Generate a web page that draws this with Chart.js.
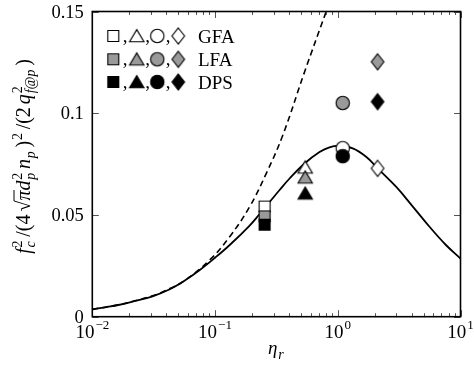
<!DOCTYPE html>
<html>
<head>
<meta charset="utf-8">
<script src="https://cdn.jsdelivr.net/npm/chart.js@4.4.1/dist/chart.umd.min.js"></script>
<style>
  html, body { margin: 0; padding: 0; background: #fff; }
  #wrap { width: 474px; height: 367px; }
</style>
</head>
<body>
<div id="wrap"><canvas id="c"></canvas></div>
<script>
// solid curve
const etaSolid = [0.01, 0.01269, 0.01627, 0.02225, 0.03057, 0.04282, 0.05672, 0.0751, 0.09945, 0.1317,
                  0.1914, 0.2309, 0.2784, 0.3357, 0.4049, 0.5362, 0.71, 0.856, 1.032, 1.324, 1.702,
                  2.114, 2.985, 4.072, 5.567, 7.608, 10];
const solidVals = [0.00364, 0.00462, 0.00575, 0.00772, 0.00988, 0.01347, 0.01779, 0.02295, 0.02885, 0.03524,
                   0.04482, 0.05048, 0.05637, 0.06227, 0.06792, 0.07529, 0.08095, 0.08326, 0.0839, 0.08277,
                   0.07864, 0.07294, 0.06389, 0.05426, 0.04433, 0.03524, 0.0286];
// dashed curve
const etaDash = [0.01, 0.01627, 0.03057, 0.04282, 0.05494, 0.09055, 0.1317, 0.1914, 0.2618, 0.357, 0.5362, 0.8047];
const dashVals = [0.00364, 0.00585, 0.01017, 0.01386, 0.0172, 0.02787, 0.03932, 0.05406, 0.07048, 0.0893, 0.1203, 0.15];

// markers
const etaPts = [0.2535, 0.543, 1.098, 2.11];
const gfaPts = [0.0541, 0.0734, 0.0828, 0.0729];
const lfaPts = [0.0493, 0.0685, 0.105, 0.1253];
const dpsPts = [0.0452, 0.0606, 0.0789, 0.1057];
const shapes = ['rect', 'triangle', 'circle', 'diamond'];

const legendNames = ['GFA', 'LFA', 'DPS'];
const xMajor = [0.01, 0.1, 1, 10];
const xTickExp = ['\u22122', '\u22121', '0', '1'];
const yTicks = [0, 0.05, 0.1, 0.15];
const yTickLabels = ['0', '0.05', '0.1', '0.15'];

const C = { gfa: '#ffffff', lfa: '#9a9a9a', dps: '#000000', edge: '#000000', tick: '#555555' };
const FONT = '"Liberation Serif", "DejaVu Serif", serif';

// kleine Marker-Bilder, damit Form und Seitenverhältnis wie im Original sind
function makeMarker(shape, fill) {
  const cv = document.createElement('canvas');
  cv.width = 20; cv.height = 20;
  const g = cv.getContext('2d');
  g.fillStyle = fill;
  g.strokeStyle = C.edge;
  g.lineWidth = 1.1;
  g.beginPath();
  if (shape === 'rect') {
    g.rect(4.5, 4.5, 11, 11);
  } else if (shape === 'triangle') {
    g.moveTo(10, 3.6); g.lineTo(17.2, 15.8); g.lineTo(2.8, 15.8); g.closePath();
  } else if (shape === 'circle') {
    g.arc(10, 10, 6.7, 0, Math.PI * 2);
  } else {
    g.moveTo(10, 2); g.lineTo(16.3, 10); g.lineTo(10, 18); g.lineTo(3.7, 10); g.closePath();
  }
  g.fill();
  g.stroke();
  return cv;
}
const markers = {
  gfa: shapes.map(s => makeMarker(s, C.gfa)),
  lfa: shapes.map(s => makeMarker(s, C.lfa)),
  dps: shapes.map(s => makeMarker(s, C.dps)),
};

const xy = (xs, ys) => xs.map((x, i) => ({ x, y: ys[i] }));

// Text mit Hoch-/Tiefstellung zeichnen
function drawRuns(ctx, runs, size, x0, y0, draw, gap = 0) {
  const small = Math.round(size * 0.72);
  let x = x0;
  runs.forEach(r => {
    ctx.font = (r.it ? 'italic ' : '') + size + 'px ' + FONT;
    const w = ctx.measureText(r.t).width;
    if (draw) ctx.fillText(r.t, x, y0);
    if (r.bar && draw) {
      ctx.save();
      ctx.lineWidth = 1;
      ctx.beginPath();
      ctx.moveTo(x - 0.5, y0 - size * 0.8);
      ctx.lineTo(x + w + 0.5, y0 - size * 0.8);
      ctx.stroke();
      ctx.restore();
    }
    x += w;
    let extra = 0;
    if (r.sup) {
      ctx.font = small + 'px ' + FONT;
      if (draw) ctx.fillText(r.sup, x + 0.8, y0 - size * 0.42);
      extra = Math.max(extra, ctx.measureText(r.sup).width + 1.5);
    }
    if (r.sub) {
      ctx.font = (r.subIt === false ? '' : 'italic ') + small + 'px ' + FONT;
      if (draw) ctx.fillText(r.sub, x + 0.8, y0 + size * 0.27);
      extra = Math.max(extra, ctx.measureText(r.sub).width + 1.5);
    }
    x += extra + (r.bar || r.t === '\u221A' ? 0 : gap);
  });
  return x - x0;
}

const yLabelRuns = [
  { t: 'f', it: true, sup: '2', sub: 'c' },
  { t: '/(4' },
  { t: '\u221A' },
  { t: '\u03C0', it: true, bar: true },
  { t: 'd', it: true, sup: '2', sub: 'p' },
  { t: 'n', it: true, sub: 'p' },
  { t: ')', sup: '2' },
  { t: '/(2' },
  { t: 'q', it: true, sup: '2', sub: 'f@p' },
  { t: ')' },
];

const framePlugin = {
  id: 'frame',
  afterDraw(chart) {
    const ctx = chart.ctx;
    const a = chart.chartArea;
    const xs = chart.scales.x, ys = chart.scales.y;
    ctx.save();

    // Ticks nach innen
    ctx.strokeStyle = C.tick;
    ctx.lineWidth = 1;
    ctx.beginPath();
    for (let e = -2; e <= 1; e++) {
      for (let k = 1; k <= 9; k++) {
        const v = k * Math.pow(10, e);
        if (v > 10.0001) break;
        const px = Math.round(xs.getPixelForValue(v)) + 0.5;
        const len = k === 1 ? 6.5 : 3.5;
        ctx.moveTo(px, a.bottom); ctx.lineTo(px, a.bottom - len);
        ctx.moveTo(px, a.top); ctx.lineTo(px, a.top + len);
      }
    }
    yTicks.forEach(v => {
      const py = Math.round(ys.getPixelForValue(v)) + 0.5;
      ctx.moveTo(a.left, py); ctx.lineTo(a.left + 6.5, py);
      ctx.moveTo(a.right, py); ctx.lineTo(a.right - 6.5, py);
    });
    ctx.stroke();

    // Rahmen
    ctx.strokeStyle = '#000';
    ctx.lineWidth = 1.6;
    ctx.strokeRect(a.left, a.top, a.right - a.left, a.bottom - a.top);

    // Tick-Beschriftungen
    ctx.fillStyle = '#000';
    ctx.textBaseline = 'alphabetic';
    xMajor.forEach((v, i) => {
      const px = xs.getPixelForValue(v);
      ctx.font = '19px ' + FONT;
      const w1 = ctx.measureText('10').width;
      ctx.font = '13px ' + FONT;
      const w2 = ctx.measureText(xTickExp[i]).width;
      const x0 = px - (w1 + w2 + 1) / 2;
      ctx.font = '19px ' + FONT;
      ctx.textAlign = 'left';
      ctx.fillText('10', x0, a.bottom + 21.5);
      ctx.font = '13px ' + FONT;
      ctx.fillText(xTickExp[i], x0 + w1 + 1, a.bottom + 12);
    });
    ctx.font = '18.5px ' + FONT;
    ctx.textAlign = 'right';
    yTicks.forEach((v, i) => {
      ctx.fillText(yTickLabels[i], a.left - 8.5, ys.getPixelForValue(v) + 6);
    });

    // Achsentitel x
    ctx.textAlign = 'left';
    drawRuns(ctx, [{ t: '\u03B7', it: true, sub: 'r' }], 19, 268, 354, true);

    // Achsentitel y (gedreht)
    ctx.save();
    ctx.translate(30, 155);
    ctx.rotate(-Math.PI / 2);
    ctx.strokeStyle = '#000';
    const wl = drawRuns(ctx, yLabelRuns, 20, 0, 0, false, 3);
    drawRuns(ctx, yLabelRuns, 20, -wl / 2, 0, true, 3);
    ctx.restore();

    // Legende
    const mx = [113.3, 136.7, 157.3, 178.3];
    const cx = [125, 147.5, 168];
    const rowsY = [36, 59.3, 82];
    const sets = [markers.gfa, markers.lfa, markers.dps];
    rowsY.forEach((ry, r) => {
      mx.forEach((x, j) => {
        const m = sets[r][j];
        ctx.drawImage(m, x - m.width / 2, ry - m.height / 2);
      });
      ctx.font = '19px ' + FONT;
      ctx.textAlign = 'center';
      cx.forEach(x => ctx.fillText(',', x, ry + 6));
      ctx.textAlign = 'left';
      ctx.fillText(legendNames[r], 198, ry + 6.5);
    });

    ctx.restore();
  },
};

const pointSet = (label, vals, imgs) => ({
  type: 'scatter',
  label,
  data: xy(etaPts, vals),
  pointStyle: imgs,
  pointRadius: 8,
  showLine: false,
});

new Chart(document.getElementById('c'), {
  data: {
    datasets: [
      pointSet('DPS', dpsPts, markers.dps),
      pointSet('LFA', lfaPts, markers.lfa),
      pointSet('GFA', gfaPts, markers.gfa),
      {
        type: 'line',
        label: 'solid',
        data: xy(etaSolid, solidVals),
        borderColor: '#000',
        borderWidth: 1.8,
        pointRadius: 0,
        tension: 0.4,
        fill: false,
      },
      {
        type: 'line',
        label: 'dashed',
        data: xy(etaDash, dashVals),
        borderColor: '#000',
        borderWidth: 1.6,
        borderDash: [6, 4],
        pointRadius: 0,
        tension: 0.4,
        fill: false,
      },
    ],
  },
  options: {
    responsive: true,
    maintainAspectRatio: false,
    animation: false,
    devicePixelRatio: 1,
    layout: { padding: { left: 92.3, right: 13.5, top: 11.5, bottom: 50.3 } },
    plugins: { legend: { display: false }, tooltip: { enabled: false } },
    scales: {
      x: { type: 'logarithmic', min: 0.01, max: 10, display: false },
      y: { type: 'linear', min: 0, max: 0.15, display: false },
    },
  },
  plugins: [framePlugin],
});
</script>
</body>
</html>
